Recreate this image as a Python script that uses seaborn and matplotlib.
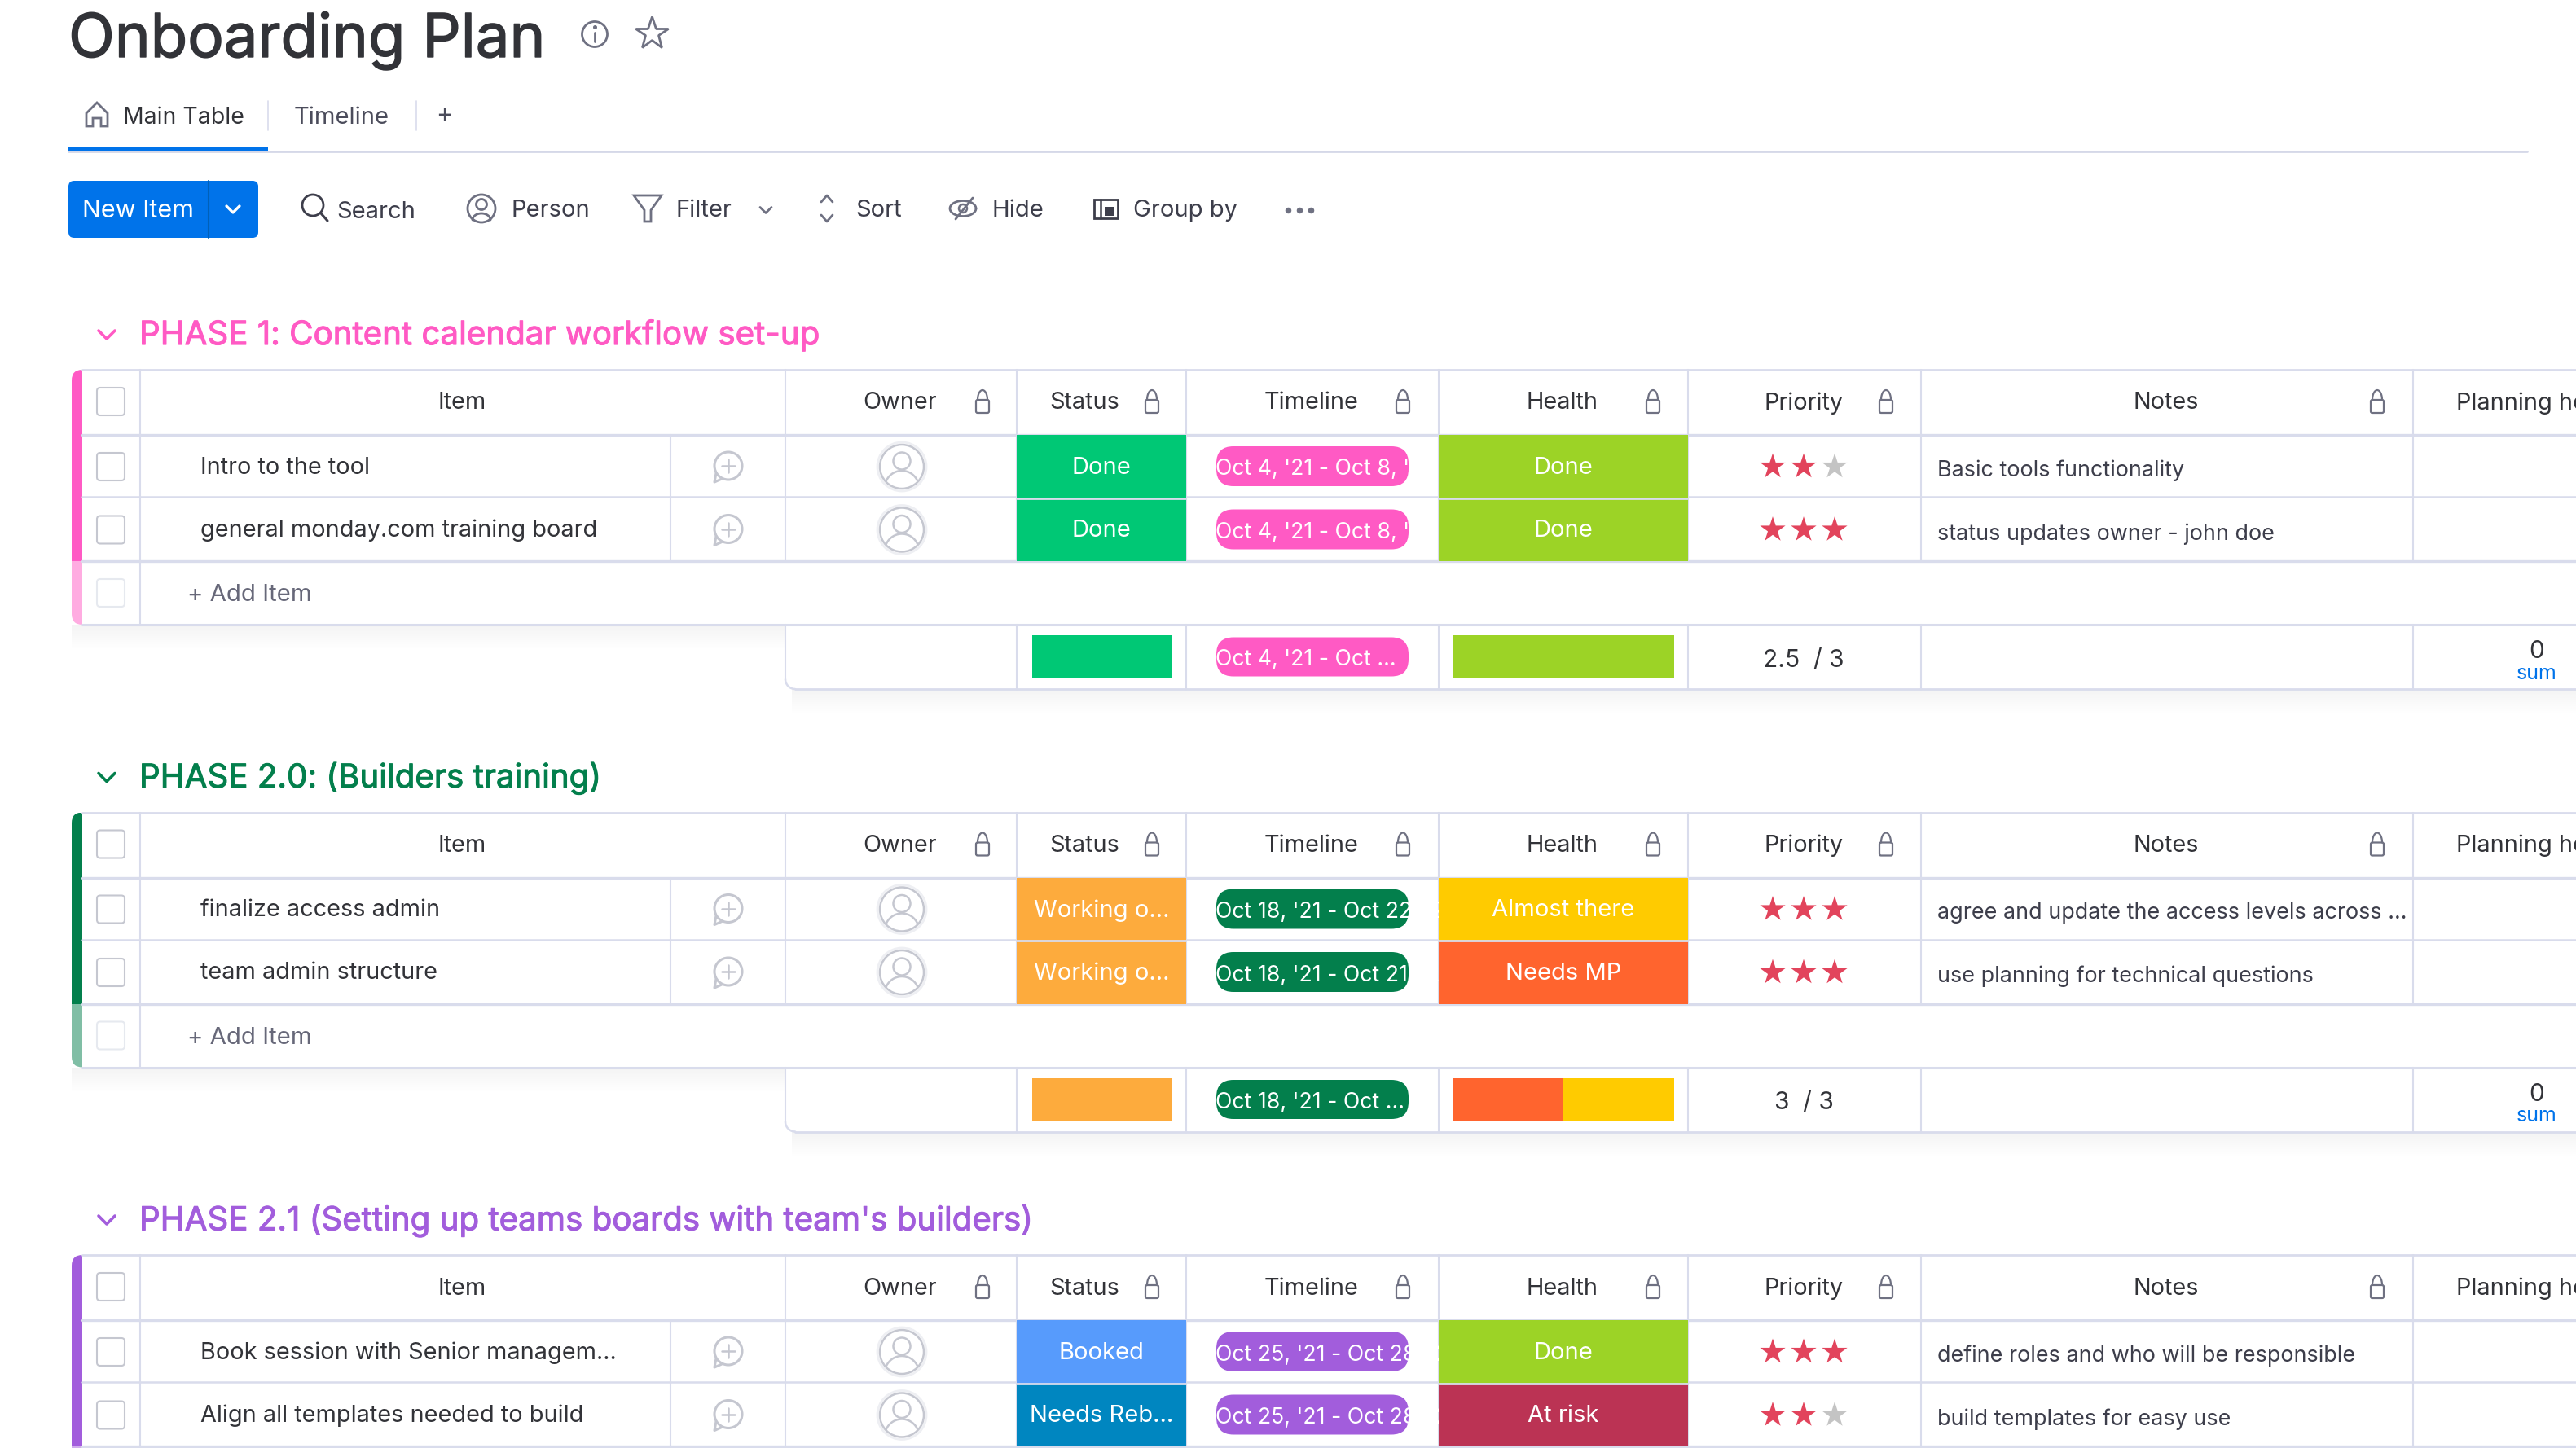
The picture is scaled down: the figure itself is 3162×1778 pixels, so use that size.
import numpy as np
import pandas as pd
import matplotlib
matplotlib.use("Agg")
import matplotlib.pyplot as plt
import matplotlib.patheffects as pe
from matplotlib.colors import ListedColormap
from matplotlib.patches import Circle, FancyBboxPatch, Rectangle, Polygon
import seaborn as sns

# board content
board_title = "Onboarding Plan"
tool_labels = ["Search", "Person", "Filter", "Sort", "Hide", "Group by"]
column_names = ["Item", "Owner", "Status", "Timeline", "Health", "Priority", "Notes"]

group_titles = [
    "PHASE 1: Content calendar workflow set-up",
    "PHASE 2.0: (Builders training)",
    "PHASE 2.1 (Setting up teams boards with team's builders)",
]
group_colors = ["#ff5ac4", "#037f4c", "#a25ddc"]
items = [
    ["Intro to the tool", "general monday.com training board"],
    ["finalize access admin", "team admin structure"],
    ["Book session with Senior managem...", "Align all templates needed to build"],
]
statuses = [
    ["Done", "Done"],
    ["Working o...", "Working o..."],
    ["Booked", "Needs Reb..."],
]
timelines = [
    ["Oct 4, '21 - Oct 8, '21", "Oct 4, '21 - Oct 8, '21"],
    ["Oct 18, '21 - Oct 22, '21", "Oct 18, '21 - Oct 21, '21"],
    ["Oct 25, '21 - Oct 28, '21", "Oct 25, '21 - Oct 28, '21"],
]
healths = [
    ["Done", "Done"],
    ["Almost there", "Needs MP"],
    ["Done", "At risk"],
]
ratings = [[2, 3], [3, 3], [3, 2]]
notes = [
    ["Basic tools functionality", "status updates owner - john doe"],
    ["agree and update the access levels across ...", "use planning for technical questions"],
    ["define roles and who will be responsible", "build templates for easy use"],
]
summary_status = [["Done"], ["Working o..."], None]
summary_timeline = ["Oct 4, '21 - Oct ...", "Oct 18, '21 - Oct ...", None]
summary_health = [["Done"], ["Needs MP", "Almost there"], None]
summary_priority = ["2.5  / 3", "3  / 3", None]
summary_hours = [0, 0, None]

status_colors = {"Done": "#00c875", "Working o...": "#fdab3d", "Booked": "#579bfc", "Needs Reb...": "#0086c0"}
health_colors = {"Done": "#9cd326", "Almost there": "#ffcb00", "Needs MP": "#ff642e", "At risk": "#bb3354"}

# layout, in pixels of the screenshot
W, H = 3162, 1778
INK = "#323338"
MUTED = "#676879"
ICON = "#6f7182"
GRID = "#d9dcec"
SOFT = "#c5c7d0"
BLUE = "#0073ea"
group_tops = [454, 997.5, 1541]
col_edges = [172, 964, 1248, 1456, 1766, 2072, 2358, 2962]
col_centers = [567, 1105, 1331, 1610, 1918, 2214, 2659]
lock_xs = [None, 1206, 1414, 1722, 2029, 2315, 2918]
star_xs = [2176, 2214, 2252]

sns.set_theme(style="white")
plt.rcParams["font.family"] = ["Inter", "DejaVu Sans"]

fig = plt.figure(figsize=(W / 100, H / 100), dpi=100, facecolor="white")
ax = fig.add_axes([0, 0, 1, 1])
ax.set_xlim(0, W)
ax.set_ylim(H, 0)
ax.axis("off")
ax.autoscale(False)


def label(x, y, s, size=20.8, color=INK, ha="center", stroke=0, **kw):
    t = ax.text(x, y, s, fontsize=size, color=color, ha=ha, va="center_baseline", **kw)
    if stroke:
        # Inter comes in one weight here, thicken the big titles a bit
        t.set_path_effects([pe.withStroke(linewidth=stroke, foreground=color)])
    return t


def line(xs, ys, color=GRID, lw=1.5, **kw):
    ax.plot(xs, ys, color=color, lw=lw, solid_capstyle="round", **kw)


def chevron(x, y, size, color, lw=2.2):
    line([x - size, x, x + size], [y - size / 2, y + size / 2, y - size / 2], color, lw)


def lock(x, y):
    ax.add_patch(FancyBboxPatch((x - 8, y - 2), 16, 16, boxstyle="round,pad=0,rounding_size=2",
                                fc="white", ec=ICON, lw=1.6))
    t = np.linspace(np.pi, 2 * np.pi, 20)
    line(x + 6 * np.cos(t), y - 2 + 12 * np.sin(t), ICON, 1.6)


def checkbox(y, color=SOFT):
    ax.add_patch(FancyBboxPatch((119, y - 17), 34, 34, boxstyle="round,pad=0,rounding_size=4",
                                fc="white", ec=color, lw=1.5))


def avatar(x, y):
    ax.add_patch(Circle((x, y), 30, fc="none", ec="#eeeff3", lw=2))
    ring = Circle((x, y), 27, fc="white", ec=SOFT, lw=1.8)
    ax.add_patch(ring)
    ax.add_patch(Circle((x, y - 7), 10.5, fc="none", ec=SOFT, lw=1.8))
    t = np.linspace(np.pi, 2 * np.pi, 30)
    ln, = ax.plot(x + 21 * np.cos(t), y + 26 + 21 * np.sin(t), color=SOFT, lw=1.8)
    ln.set_clip_path(ring)


def comment(x, y):
    ax.add_patch(Circle((x, y), 17, fc="white", ec=SOFT, lw=2.2))
    line([x - 15, x - 17, x - 8], [y + 9, y + 20, y + 16], SOFT, 2.2)
    line([x - 8, x + 8], [y, y], SOFT, 1.8)
    line([x, x], [y - 8, y + 8], SOFT, 1.8)


def shadow(x0, x1, y, depth=30):
    for i in range(depth):
        v = 0.955 + 0.045 * i / depth
        ax.add_patch(Rectangle((x0, y + i), x1 - x0, 1.2, fc=(v, v, v), ec="none", zorder=0.5))


def pill(x0, x1, y0, y1, color, s):
    patch = FancyBboxPatch((x0, y0), x1 - x0, y1 - y0, boxstyle="round,pad=0,rounding_size=21",
                           fc=color, ec="none", zorder=2)
    ax.add_patch(patch)
    t = label(x0 - 1, (y0 + y1) / 2 + 1, s, size=19.2, color="white", ha="left", zorder=3)
    t.set_clip_path(patch)


def cell_heatmap(x0, y0, x1, y1, labels, palette, annot=True):
    # one heatmap per block of status cells, placed at pixel position
    sub = fig.add_axes([x0 / W, 1 - y1 / H, (x1 - x0) / W, (y1 - y0) / H])
    names = np.array(labels)
    uniq = list(dict.fromkeys(names.ravel()))
    codes = np.vectorize(uniq.index)(names)
    sns.heatmap(codes, ax=sub, cmap=ListedColormap([palette[u] for u in uniq]),
                vmin=0, vmax=max(len(uniq) - 1, 1), cbar=False,
                annot=names if annot else False, fmt="",
                annot_kws={"color": "white", "fontsize": 21},
                xticklabels=False, yticklabels=False)
    sub.set_xlabel("")
    sub.set_ylabel("")
    for t in sub.texts:
        tx, ty = t.get_position()
        t.set_position((tx, ty + 0.02))
    if annot:
        sub.axhline(1, color=GRID, lw=2)
    return sub


# page header
label(84, 42, board_title, size=53.5, ha="left", stroke=1.0)
ax.add_patch(Circle((730, 42), 15.5, fc="none", ec=ICON, lw=2))
line([730, 730], [40, 51], ICON, 2)
ax.plot([730], [33], "o", color=ICON, ms=2.6)
ax.plot([800], [41], marker="*", ms=30, mfc="none", mec=ICON, mew=2)

# tabs
house = [(106, 139), (119, 126), (132, 139), (132, 155), (124, 155), (124, 145), (114, 145), (114, 155), (106, 155)]
ax.add_patch(Polygon(house, closed=True, fc="none", ec=ICON, lw=2))
label(151, 141, "Main Table", size=20.5, ha="left")
label(361, 141, "Timeline", size=21, ha="left", color="#4b4c5b")
label(545, 139, "+", size=22, color="#4b4c5b")
line([329, 329], [124, 160], GRID, 1.2)
line([511, 511], [124, 160], GRID, 1.2)
line([84, 3102], [186, 186], "#d5d8e8", 2)
ax.add_patch(Rectangle((84, 181), 245, 5, fc=BLUE, ec="none"))

# toolbar
ax.add_patch(FancyBboxPatch((84, 222), 233, 70, boxstyle="round,pad=0,rounding_size=7", fc=BLUE, ec="none"))
line([256, 256], [222, 292], "#0060b9", 1.5)
label(101, 256, "New Item", size=22, color="white", ha="left")
chevron(286, 257, 8, "white", 2.4)

tool_text_xs = [413, 627, 829, 1050, 1218, 1391]
tool_text_ys = [258, 256, 256, 256, 256, 256]
for x, y, s in zip(tool_text_xs, tool_text_ys, tool_labels):
    label(x, y, s, size=21, ha="left", color="#3d3e4b")

ax.add_patch(Circle((384, 252), 13, fc="none", ec="#3d3e4b", lw=2))
line([394, 402], [262, 271], "#3d3e4b", 2.2)
ax.add_patch(Circle((591, 256), 17, fc="none", ec=ICON, lw=2))
ax.add_patch(Circle((591, 251), 6.5, fc="none", ec=ICON, lw=2))
t_arc = np.linspace(np.pi, 2 * np.pi, 20)
line(591 + 11 * np.cos(t_arc), 270 + 8 * np.sin(t_arc), ICON, 2)
ax.add_patch(Polygon([(778, 240), (812, 240), (799, 258), (799, 272), (791, 272), (791, 258)],
                     closed=True, fc="none", ec=ICON, lw=2))
chevron(940, 258, 7, ICON, 2)
line([1008, 1015, 1022], [248, 240, 248], ICON, 2)
line([1008, 1015, 1022], [264, 272, 264], ICON, 2)
t_eye = np.linspace(0, 2 * np.pi, 50)
line(1182 + 16 * np.cos(t_eye), 256 + 9.5 * np.sin(t_eye), ICON, 2)
ax.add_patch(Circle((1182, 256), 5, fc="none", ec=ICON, lw=1.8))
line([1173, 1194], [269, 243], ICON, 2)
ax.add_patch(Rectangle((1343, 245), 29, 23, fc="none", ec="#3d3e4b", lw=2))
line([1351, 1351], [245, 268], "#3d3e4b", 1.8)
ax.add_patch(Rectangle((1356, 254), 12, 11, fc="#3d3e4b", ec="none"))
for x in [1581, 1595, 1609]:
    ax.plot([x], [258], "o", color=ICON, ms=4.4)

# one table for every group
star_rows = []
for g, top in enumerate(group_tops):
    color = group_colors[g]
    y_head = top + 80
    y_row1 = top + 156
    y_row2 = top + 235
    y_add = top + 313
    y_sum = top + 392
    row_mid = [(y_head + y_row1) / 2, (y_row1 + y_row2) / 2]

    # group title
    chevron(131, top - 43, 10, color, 2.6)
    label(171, top - 46, group_titles[g], size=29, color=color, ha="left", stroke=0.7)

    # shadows go under everything else
    shadow(88, 964, y_add)
    if summary_status[g] is not None:
        shadow(972, W, y_sum)

    # coloured left edge, rounded at the corners
    for a, y0, y1 in [(1.0, top, y_row2), (0.5, y_row2, y_add)]:
        bar = FancyBboxPatch((88, top), 40, y_add - top, boxstyle="round,pad=0,rounding_size=13",
                             fc=color, ec="none", alpha=a, zorder=1)
        ax.add_patch(bar)
        bar.set_clip_path(Rectangle((88, y0), 13, y1 - y0, transform=ax.transData))
    ax.add_patch(Rectangle((101, top), W, y_add - top, fc="white", ec="none", zorder=1))

    # grid
    for y, lw in [(top, 2), (y_head, 2.4), (y_row1, 1.8), (y_row2, 2.4), (y_add, 2.2)]:
        line([101, W], [y, y], GRID, lw, zorder=1.5)
    line([172, 172], [top, y_add], GRID, zorder=1.5)
    line([823, 823], [y_head, y_row2], GRID, zorder=1.5)
    for x in col_edges[1:]:
        line([x, x], [top, y_row2], GRID, zorder=1.5)

    # header row
    checkbox(top + 39)
    for name, x, lx in zip(column_names, col_centers, lock_xs):
        label(x, top + 38, name)
        if lx is not None:
            lock(lx, top + 39)
    label(3015, top + 38, "Planning hours", ha="left")

    # item rows
    for r, mid in enumerate(row_mid):
        checkbox(mid + 1)
        label(246, mid - 1, items[g][r], ha="left")
        comment(894, mid)
        avatar(1107, mid + 1)
        pill(1493, 1729, mid - 24, mid + 25, color, timelines[g][r])
        label(2378, mid + 3, notes[g][r], size=19.4, ha="left", color="#3d3e4b")
        for i, x in enumerate(star_xs):
            star_rows.append({"x": x, "y": mid + 1, "lit": i < ratings[g][r]})

    # coloured status and health cells
    cell_heatmap(col_edges[2], y_head, col_edges[3], y_row2, [[s] for s in statuses[g]], status_colors)
    cell_heatmap(col_edges[4], y_head, col_edges[5], y_row2, [[s] for s in healths[g]], health_colors)

    # add item row
    checkbox((y_row2 + y_add) / 2, "#e6e9ef")
    label(230, (y_row2 + y_add) / 2, "+ Add Item", size=21.2, ha="left", color=MUTED)

    # summary row
    if summary_status[g] is None:
        continue
    line([976, W], [y_sum, y_sum], GRID, 2)
    t_corner = np.linspace(np.pi / 2, np.pi, 12)
    line(976 + 12 * np.cos(t_corner), y_sum - 12 + 12 * np.sin(t_corner), GRID, 1.8)
    for x in col_edges[1:]:
        line([x, x], [y_add, y_sum if x > 964 else y_sum - 12], GRID)
    mid = (y_add + y_sum) / 2
    cell_heatmap(1267, y_add + 13, 1438, y_add + 66, [summary_status[g]], status_colors, annot=False)
    cell_heatmap(1783, y_add + 13, 2055, y_add + 66, [summary_health[g]], health_colors, annot=False)
    pill(1493, 1729, mid - 24, mid + 24, color, summary_timeline[g])
    label(2214, mid + 1, summary_priority[g], size=21.5)
    label(3114, mid - 9, str(summary_hours[g]), size=21.5)
    label(3114, mid + 18, "sum", size=18, color=BLUE)

# priority stars
stars = pd.DataFrame(star_rows)
sns.scatterplot(data=stars, x="x", y="y", hue="lit", palette={True: "#e2445c", False: "#c4c4c4"},
                marker="*", s=560, linewidth=0, legend=False, ax=ax, zorder=3)
ax.set_xlim(0, W)
ax.set_ylim(H, 0)

fig.savefig("out.png", dpi=100, facecolor="white")
